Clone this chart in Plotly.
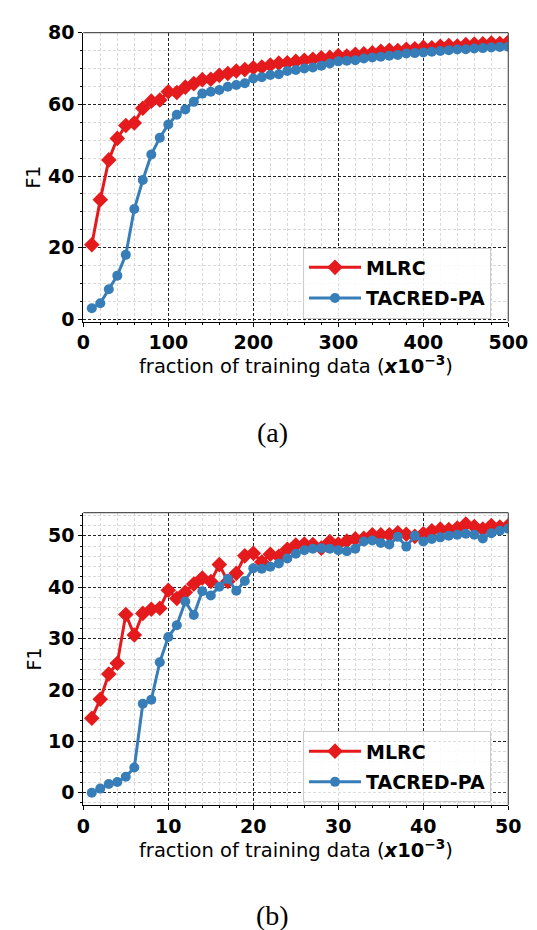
import plotly.graph_objects as go

# panel (a): fraction of training data, x1e-3
X_A = list(range(10, 501, 10))
MLRC_A = [20.8, 33.4, 44.5, 50.5, 54.1, 54.8, 58.9, 60.9, 61.2, 63.5,
          63.3, 64.8, 65.8, 66.9, 67.0, 68.1, 68.6, 69.3, 69.7, 70.2,
          70.4, 71.0, 71.5, 71.6, 72.0, 72.3, 72.6, 73.0, 73.1, 73.6,
          73.5, 74.0, 74.1, 74.4, 74.8, 75.1, 75.0, 75.4, 75.5, 75.9,
          75.8, 76.2, 76.4, 76.3, 76.7, 76.8, 76.9, 77.1, 77.0, 77.4]
TACRED_A = [3.1, 4.5, 8.4, 12.2, 18.0, 30.8, 38.9, 46.0, 50.7, 54.4,
            57.1, 58.6, 60.7, 63.0, 63.5, 64.0, 64.9, 65.4, 65.9, 67.2,
            67.6, 68.2, 68.4, 69.3, 69.6, 70.0, 70.3, 70.8, 71.4, 72.0,
            72.2, 72.3, 72.8, 73.1, 73.3, 73.6, 73.8, 74.2, 74.3, 74.5,
            74.7, 74.9, 75.1, 75.3, 75.4, 75.6, 75.7, 75.9, 76.0, 76.1]

# panel (b)
X_B = list(range(1, 51))
MLRC_B = [14.5, 18.2, 23.1, 25.2, 34.7, 30.7, 34.9, 35.7, 35.9, 39.4,
          37.8, 39.0, 40.6, 41.8, 41.1, 44.4, 41.1, 42.7, 46.1, 46.6,
          44.9, 46.4, 46.0, 47.4, 48.2, 48.4, 48.3, 47.6, 48.9, 48.4,
          49.0, 49.4, 49.5, 50.2, 50.2, 50.2, 50.6, 50.3, 49.9, 50.4,
          51.0, 51.3, 51.2, 51.5, 52.3, 51.8, 51.3, 52.0, 51.7, 52.0]
TACRED_B = [0.0, 0.8, 1.7, 2.1, 3.1, 4.9, 17.3, 18.1, 25.4, 30.3,
            32.6, 37.2, 34.6, 39.2, 38.4, 40.1, 41.6, 39.3, 41.2, 43.7,
            43.6, 44.0, 44.6, 45.6, 46.5, 47.2, 47.5, 47.6, 47.5, 47.2,
            47.0, 47.5, 48.9, 49.1, 48.6, 48.3, 49.8, 47.9, 50.0, 48.9,
            49.4, 49.7, 50.0, 50.2, 50.4, 50.2, 49.5, 50.5, 51.0, 51.4]

RED, BLUE = "#e41a1c", "#377eb8"
OFF = 8                      # page body margin
W, H = 537 - OFF, 930 - OFF
SANS = "DejaVu Sans"


def px(xp):
    return (xp - OFF) / W


def py(yp):
    return 1 - (yp - OFF) / H


XDOM = [px(83.3), px(508.3)]
PANELS = [
    # (x, mlrc, tacred, xaxis, yaxis, legend, ydomain px (top,bottom), xrange, yrange, dticks, caption)
    (X_A, MLRC_A, TACRED_A, "x", "y", "legend", (32.7, 321.5), [0, 500], [-0.6, 80], (100, 20, 20, 5), "(a)"),
    (X_B, MLRC_B, TACRED_B, "x2", "y2", "legend2", (512.7, 805.3), [0, 50], [-2.45, 54.5], (10, 2, 10, 2), "(b)"),
]

fig = go.Figure()
layout = dict(width=W, height=H, margin=dict(l=0, r=0, t=0, b=0, autoexpand=False),
              plot_bgcolor="white", paper_bgcolor="white", showlegend=True)
annotations, shapes = [], []

for i, (x, m, t, xa, ya, lg, (ptop, pbot), xr, yr, (xd, xmd, yd, ymd), cap) in enumerate(PANELS):
    fig.add_trace(go.Scatter(x=x, y=m, name="MLRC", mode="lines+markers", xaxis=xa, yaxis=ya,
                             legend=lg, legendgroup=f"m{i}", line=dict(color=RED, width=3),
                             marker=dict(symbol="diamond", size=12, color=RED)))
    fig.add_trace(go.Scatter(x=x, y=t, name="TACRED-PA", mode="lines+markers", xaxis=xa, yaxis=ya,
                             legend=lg, legendgroup=f"t{i}", line=dict(color=BLUE, width=3),
                             marker=dict(symbol="circle", size=10, color=BLUE)))
    ydom = [py(pbot), py(ptop)]
    common = dict(showline=True, linecolor="black", linewidth=1.2, ticks="outside", ticklen=4,
                  tickcolor="black", showgrid=True, gridcolor="#222222", gridwidth=0.8,
                  griddash="3px,2px", zeroline=False, automargin=False,
                  tickfont=dict(family=SANS, size=19, color="black", weight="bold"))
    minor = dict(ticks="outside", ticklen=2, tickcolor="black", showgrid=True,
                 gridcolor="#d9d9d9", griddash="3px,2px", gridwidth=0.8)
    xkey = "xaxis" if i == 0 else "xaxis2"
    ykey = "yaxis" if i == 0 else "yaxis2"
    layout[xkey] = dict(common, domain=XDOM, range=xr, dtick=xd, tick0=0, anchor=ya,
                        minor=dict(minor, dtick=xmd))
    layout[ykey] = dict(common, domain=ydom, range=yr, dtick=yd, tick0=0, anchor=xa,
                        minor=dict(minor, dtick=ymd))
    # top and right spines in grey
    xd_ref, yd_ref = f"{xa} domain", f"{ya} domain"
    shapes.append(dict(type="line", xref=xd_ref, yref=yd_ref, x0=0, x1=1, y0=1, y1=1,
                       line=dict(color="#555555", width=1.2), layer="above"))
    shapes.append(dict(type="line", xref=xd_ref, yref=yd_ref, x0=1, x1=1, y0=0, y1=1,
                       line=dict(color="#555555", width=1.2), layer="above"))
    layout[lg] = dict(x=px(303), y=py(pbot - 74), xanchor="left", yanchor="top",
                      bgcolor="rgba(255,255,255,0.85)", bordercolor="#cccccc", borderwidth=1,
                      font=dict(family=SANS, size=19, color="black", weight="bold"),
                      itemwidth=52, tracegroupgap=3)
    annotations.append(dict(text="F1", x=px(33.5), y=py((ptop + pbot) / 2), xref="paper",
                            yref="paper", showarrow=False, textangle=-90,
                            xanchor="center", yanchor="middle",
                            font=dict(family=SANS, size=19, color="black")))
    annotations.append(dict(text="fraction of training data (<b><i>x</i>10<sup>\u22123</sup></b>)",
                            x=px(296), y=py(pbot + 43.5), xref="paper", yref="paper",
                            xanchor="center", yanchor="middle", showarrow=False,
                            font=dict(family=SANS, size=19.5, color="black")))
    annotations.append(dict(text=cap, x=px(272), y=py(pbot + 110.5), xref="paper",
                            yref="paper", showarrow=False, xanchor="center", yanchor="middle",
                            font=dict(family="Liberation Serif", size=28, color="black")))

layout["annotations"] = annotations
layout["shapes"] = shapes
fig.update_layout(**layout)
fig.write_html("out.html")
